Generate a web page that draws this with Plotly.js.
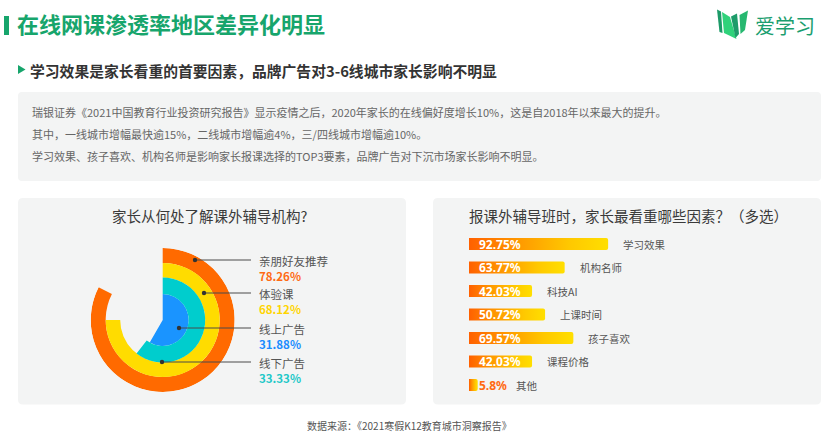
<!DOCTYPE html>
<html><head><meta charset="utf-8">
<script src="https://cdn.plot.ly/plotly-3.0.1.min.js"></script>
<style>html,body{margin:0;padding:0;background:#fff;}#chart{width:831px;height:439px;}</style>
</head><body><div id="chart"></div>
<script>
// ---- Left chart: 家长从何处了解课外辅导机构? ----
const sources = ['亲朋好友推荐', '体验课', '线上广告', '线下广告'];
const sourcePct = [78.26, 68.12, 31.88, 33.33];
const sourceArcDeg = [297, 270, 210, 218];   // arc sweep of each ring
// ---- Right chart: 报课外辅导班时，家长最看重哪些因素？ ----
const factors = ['学习效果', '机构名师', '科技AI', '上课时间', '孩子喜欢', '课程价格', '其他'];
const factorPct = [92.75, 63.77, 42.03, 50.72, 69.57, 42.03, 5.8];

const W = 831, H = 439;
const X = p => p / W, Y = p => 1 - p / H;
const CJK = '"Noto Sans CJK SC", "Noto Sans", sans-serif';
const GREEN = '#17a56c';

// ring styling (outer -> inner order per source)
const ringColors = ['#ff6a00', '#ffdc00', '#1a94ff', '#00cdcd'];
const labelColors = ['#ff6a13', '#ffd400', '#1a8cff', '#1ec8c8'];
const ringInner = [57, 42.5, 0, 26];
const ringOuter = [72, 57, 26, 42.5];
const cx = 162.7, cy = 320, R = 72;

const data = [
  {
    type: 'barpolar', subplot: 'polar',
    theta: sourceArcDeg.map(d => d / 2), width: sourceArcDeg,
    base: ringInner, r: ringOuter.map((o, i) => o - ringInner[i]),
    marker: {color: ringColors, line: {width: 0}},
    hoverinfo: 'skip', showlegend: false
  },
  {
    type: 'bar', orientation: 'h', x: factorPct, y: factors,
    xaxis: 'x', yaxis: 'y',
    marker: {color: '#ffa000', cornerradius: 2, line: {width: 0}},
    hoverinfo: 'skip', showlegend: false
  }
];

const P = (pts) => 'M' + pts.map(p => X(p[0]).toFixed(5) + ',' + Y(p[1]).toFixed(5)).join('L') + 'Z';
function roundRect(x0, y0, x1, y1, r) {
  const f = (a, b) => X(a).toFixed(5) + ',' + Y(b).toFixed(5);
  return 'M' + f(x0 + r, y0) + 'L' + f(x1 - r, y0) + 'Q' + f(x1, y0) + ' ' + f(x1, y0 + r) +
    'L' + f(x1, y1 - r) + 'Q' + f(x1, y1) + ' ' + f(x1 - r, y1) +
    'L' + f(x0 + r, y1) + 'Q' + f(x0, y1) + ' ' + f(x0, y1 - r) +
    'L' + f(x0, y0 + r) + 'Q' + f(x0, y0) + ' ' + f(x0 + r, y0) + 'Z';
}
const panelFill = '#f3f4f4';
const shapes = [
  {type: 'rect', xref: 'paper', yref: 'paper', x0: X(4), x1: X(9), y0: Y(35), y1: Y(16), fillcolor: GREEN, line: {width: 0}},
  {type: 'path', xref: 'paper', yref: 'paper', path: P([[18, 65], [25.5, 69.5], [18, 74]]), fillcolor: GREEN, line: {width: 0}},
  {type: 'path', xref: 'paper', yref: 'paper', path: roundRect(18, 92, 821, 181, 4), fillcolor: panelFill, line: {width: 0}, layer: 'below'},
  {type: 'path', xref: 'paper', yref: 'paper', path: roundRect(18, 198, 406, 404.5, 5), fillcolor: panelFill, line: {width: 0}, layer: 'below'},
  {type: 'path', xref: 'paper', yref: 'paper', path: roundRect(433, 198, 821, 404.5, 5), fillcolor: panelFill, line: {width: 0}, layer: 'below'},
  // logo stripes
  {type: 'path', xref: 'paper', yref: 'paper', path: P([[717, 9.5], [721, 11.5], [722.5, 33], [719.5, 32]]), fillcolor: '#1c9a68', line: {width: 0}},
  {type: 'path', xref: 'paper', yref: 'paper', path: P([[722, 12], [730, 17], [736.5, 39], [724, 33]]), fillcolor: '#2fd27a', line: {width: 0}},
  {type: 'path', xref: 'paper', yref: 'paper', path: P([[731, 16.5], [737, 13.5], [739, 34], [735.5, 38]]), fillcolor: '#1e9c6a', line: {width: 0}},
  {type: 'path', xref: 'paper', yref: 'paper', path: P([[739.5, 15], [748, 10.5], [745, 30], [740.5, 34]]), fillcolor: '#27b870', line: {width: 0}}
];

// leader lines for left chart (decoration)
const leaderY = [260, 293, 328, 362];
const dotX = [195, 204, 179, 162];
const labelX = 257;
leaderY.forEach((ly, i) => {
  shapes.push({type: 'line', xref: 'paper', yref: 'paper', x0: X(dotX[i]), x1: X(251), y0: Y(ly), y1: Y(ly), line: {color: '#4a4a4a', width: 1}});
  shapes.push({type: 'circle', xref: 'paper', yref: 'paper', x0: X(dotX[i] - 2.2), x1: X(dotX[i] + 2.2), y0: Y(ly + 2.2), y1: Y(ly - 2.2), fillcolor: '#333', line: {width: 0}});
});

const ann = (x, y, text, size, color, opts) => Object.assign({
  xref: 'paper', yref: 'paper', x: X(x), y: Y(y), text, showarrow: false,
  xanchor: 'left', yanchor: 'middle', font: {family: CJK, size, color}
}, opts || {});

const annotations = [
  ann(28, 71, '学习效果是家长看重的首要因素，品牌广告对3-6线城市家长影响不明显', 14.8, '#333', {font: {family: CJK, size: 14.8, color: '#333', weight: 'bold'}}),
  ann(30, 112.3, '瑞银证券《2021中国教育行业投资研究报告》显示疫情之后，2020年家长的在线偏好度增长10%，这是自2018年以来最大的提升。', 11, '#666'),
  ann(30, 134.3, '其中，一线城市增幅最快逾15%，二线城市增幅逾4%，三/四线城市增幅逾10%。', 11, '#666'),
  ann(30, 155.7, '学习效果、孩子喜欢、机构名师是影响家长报课选择的TOP3要素，品牌广告对下沉市场家长影响不明显。', 11, '#666'),
  ann(209, 215, '家长从何处了解课外辅导机构?', 14.5, '#3a3a3a', {xanchor: 'center'}),
  ann(628, 215, '报课外辅导班时，家长最看重哪些因素？（多选）', 14.5, '#3a3a3a', {xanchor: 'center'}),
  ann(409, 425.5, '数据来源：《2021寒假K12教育城市洞察报告》', 10, '#555', {xanchor: 'center'}),
  ann(753, 25.5, '爱学习', 20, '#1a9e6f')
];
sources.forEach((s, i) => {
  annotations.push(ann(labelX, leaderY[i] + 8, s + '<br><b><span style="color:' + labelColors[i] + '">' + sourcePct[i] + '%</span></b>',
    11.5, '#555', {align: 'left'}));
});
factors.forEach((f, i) => {
  const small = factorPct[i] < 20;
  annotations.push({xref: 'x', yref: 'y', x: 0, y: f, text: factorPct[i] + '%', showarrow: false,
    xanchor: 'left', yanchor: 'middle', xshift: 8,
    font: {family: '"Noto Sans", sans-serif', size: 12, weight: 'bold', color: small ? '#ff6a13' : '#ffffff'}});
  annotations.push({xref: 'x', yref: 'y', x: small ? 0 : factorPct[i], y: f, text: f, showarrow: false,
    xanchor: 'left', yanchor: 'middle', xshift: small ? 45 : 13,
    font: {family: CJK, size: 10.5, color: '#555'}});
});

const layout = {
  width: W, height: H, margin: {l: 0, r: 0, t: 0, b: 0},
  paper_bgcolor: '#ffffff', plot_bgcolor: 'rgba(0,0,0,0)',
  font: {family: CJK},
  title: {text: '在线网课渗透率地区差异化明显', x: X(17), xanchor: 'left', xref: 'paper', y: Y(25.5), yref: 'paper', yanchor: 'middle',
    font: {family: CJK, size: 22, color: GREEN, weight: 'bold'}},
  showlegend: false,
  polar: {
    domain: {x: [X(cx - R), X(cx + R)], y: [Y(cy + R), Y(cy - R)]},
    bgcolor: 'rgba(0,0,0,0)', hole: 0,
    radialaxis: {range: [0, R], visible: false, showgrid: false, showline: false, showticklabels: false, ticks: ''},
    angularaxis: {rotation: 90, direction: 'clockwise', visible: false, showgrid: false, showline: false, showticklabels: false, ticks: ''}
  },
  xaxis: {domain: [X(469), X(619)], range: [0, 100], visible: false, fixedrange: true},
  yaxis: {domain: [Y(396.75), Y(232.25)], type: 'category', range: [6.5, -0.5], visible: false, fixedrange: true},
  bargap: 0.49,
  shapes, annotations
};

Plotly.newPlot('chart', data, layout, {staticPlot: true, displayModeBar: false}).then(gd => {
  const ns = 'http://www.w3.org/2000/svg';
  const svg = gd.querySelector('.main-svg');
  let defs = svg.querySelector('defs');
  if (!defs) { defs = document.createElementNS(ns, 'defs'); svg.insertBefore(defs, svg.firstChild); }
  const g = document.createElementNS(ns, 'linearGradient');
  g.setAttribute('id', 'barGrad'); g.setAttribute('x1', '0'); g.setAttribute('y1', '0'); g.setAttribute('x2', '1'); g.setAttribute('y2', '0');
  [['0', '#ff6000'], ['0.35', '#ff9800'], ['0.72', '#ffc800'], ['1', '#ffdf00']].forEach(([o, c]) => {
    const s = document.createElementNS(ns, 'stop'); s.setAttribute('offset', o); s.setAttribute('stop-color', c); g.appendChild(s);
  });
  defs.appendChild(g);
  gd.querySelectorAll('.cartesianlayer .barlayer .point path').forEach(p => { p.style.fill = 'url(#barGrad)'; });
});
</script>
</body></html>
